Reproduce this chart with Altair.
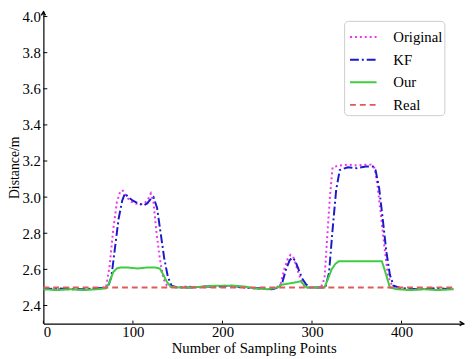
import altair as alt
import pandas as pd

# ---- data ----
orig_x = [0, 15, 30, 45, 60, 70, 74, 78, 82, 86, 89, 93, 98, 103, 108, 113, 117, 120, 123, 126,
          130, 134, 138, 145, 160, 175, 190, 205, 220, 235, 250, 260, 265, 269, 273, 276, 279, 283, 287, 291,
          295, 300, 310, 314, 317, 320, 323, 330, 340, 350, 360, 366, 370, 373, 377, 381, 385, 390, 400, 420,
          440, 458]
orig_y = [2.495, 2.49, 2.495, 2.49, 2.495, 2.5, 2.62, 2.82, 2.97, 3.035, 3.035, 3.0, 2.975, 2.965, 2.96,
          2.965, 2.99, 3.02, 2.97, 2.82, 2.66, 2.55, 2.51, 2.5, 2.505, 2.5, 2.505, 2.51, 2.5, 2.495,
          2.49, 2.495, 2.52, 2.6, 2.66, 2.68, 2.67, 2.61, 2.55, 2.51, 2.5, 2.5, 2.5, 2.55, 2.78,
          3.0, 3.165, 3.175, 3.18, 3.175, 3.18, 3.18, 3.16, 3.07, 2.9, 2.72, 2.56, 2.505, 2.495, 2.49,
          2.495, 2.49]

kf_x = [0, 15, 30, 45, 60, 72, 76, 80, 84, 88, 91, 95, 100, 106, 112, 116, 120, 123, 127, 131,
        135, 139, 143, 150, 165, 180, 195, 210, 225, 240, 255, 263, 267, 271, 275, 278, 281, 285, 289, 293,
        297, 305, 315, 319, 323, 327, 331, 340, 350, 360, 368, 371, 375, 379, 383, 387, 391, 400, 420, 440,
        458]
kf_y = [2.49, 2.495, 2.49, 2.49, 2.495, 2.5, 2.56, 2.72, 2.88, 2.98, 3.02, 3.0, 2.98, 2.965, 2.955,
        2.965, 2.99, 3.0, 2.94, 2.8, 2.66, 2.56, 2.51, 2.5, 2.5, 2.505, 2.505, 2.51, 2.5, 2.495,
        2.49, 2.5, 2.53, 2.6, 2.65, 2.665, 2.65, 2.6, 2.55, 2.52, 2.5, 2.5, 2.5, 2.58, 2.82,
        3.04, 3.15, 3.165, 3.16, 3.17, 3.17, 3.15, 3.05, 2.88, 2.7, 2.57, 2.51, 2.495, 2.49, 2.495,
        2.49]

our_x = [0, 15, 30, 45, 60, 70, 74, 78, 82, 86, 95, 105, 115, 125, 130, 134, 138, 142, 150, 165,
         180, 195, 210, 225, 235, 250, 262, 266, 272, 278, 284, 287, 290, 294, 300, 310, 314, 318, 322, 326,
         330, 340, 350, 360, 370, 378, 381, 384, 387, 395, 410, 425, 440, 458]
our_y = [2.49, 2.485, 2.49, 2.485, 2.49, 2.495, 2.53, 2.585, 2.605, 2.61, 2.61, 2.605, 2.61, 2.61, 2.605,
         2.57, 2.53, 2.505, 2.5, 2.5, 2.505, 2.51, 2.51, 2.505, 2.495, 2.49, 2.5, 2.515, 2.52, 2.525,
         2.53, 2.535, 2.52, 2.5, 2.5, 2.5, 2.5, 2.55, 2.6, 2.63, 2.645, 2.645, 2.645, 2.645, 2.645,
         2.645, 2.6, 2.55, 2.5, 2.49, 2.485, 2.49, 2.485, 2.49]

real_x = [0, 458]
real_y = [2.5, 2.5]

series_names = ["Original", "KF", "Our", "Real"]
series_colors = ["#ee33ee", "#1a1acc", "#3fcc3f", "#e05a5a"]
series_dashes = [[2, 3], [9, 3, 2, 3], [1, 0], [6, 4]]

x_ticks = [0, 100, 200, 300, 400]
y_ticks = [2.4, 2.6, 2.8, 3.0, 3.2, 3.4, 3.6, 3.8, 4.0]

rows = []
for name, xs, ys in [("Original", orig_x, orig_y), ("KF", kf_x, kf_y),
                     ("Our", our_x, our_y), ("Real", real_x, real_y)]:
    for i, (a, b) in enumerate(zip(xs, ys)):
        rows.append({"n": a, "d": b, "series": name, "ord": i})
df = pd.DataFrame(rows)

W, H = 428, 318
FONT = "Liberation Serif"

xscale = alt.Scale(domain=[0, W / 0.911], nice=False, zero=False)
yscale = alt.Scale(domain=[2.3, 2.3 + H / 183.75], nice=False, zero=False)

xaxis = alt.Axis(values=x_ticks, title="Number of Sampling Points", tickSize=0,
                 labelPadding=1, titlePadding=1, grid=False,
                 labelFont=FONT, titleFont=FONT, labelOverlap=False)
yaxis = alt.Axis(values=y_ticks, format=".1f", title="Distance/m", tickSize=0,
                 labelPadding=3, titleX=-22, titleY=H / 2, titleFontSize=14, grid=False,
                 labelFont=FONT, titleFont=FONT, labelOverlap=False)

lines = alt.Chart(df).mark_line(strokeWidth=2).encode(
    x=alt.X("n:Q", scale=xscale, axis=xaxis, title="Number of Sampling Points"),
    y=alt.Y("d:Q", scale=yscale, axis=yaxis, title="Distance/m"),
    color=alt.Color("series:N", scale=alt.Scale(domain=series_names, range=series_colors),
                    legend=alt.Legend(title=None)),
    strokeDash=alt.StrokeDash("series:N", scale=alt.Scale(domain=series_names, range=series_dashes),
                              legend=alt.Legend(title=None)),
    order=alt.Order("ord:Q"),
)

xt = alt.Chart(pd.DataFrame({"v": x_ticks})).mark_rule(color="black", strokeWidth=1).encode(
    x=alt.X("v:Q", scale=xscale, axis=xaxis, title="Number of Sampling Points"),
    y=alt.value(H), y2=alt.value(H - 3))
yt = alt.Chart(pd.DataFrame({"v": y_ticks})).mark_rule(color="black", strokeWidth=1).encode(
    y=alt.Y("v:Q", scale=yscale, axis=yaxis, title="Distance/m"),
    x=alt.value(0), x2=alt.value(4))

one = pd.DataFrame({"a": [0]})
arrow_r = alt.Chart(one).mark_point(shape="M-1,-0.6L0,0L-1,0.6", filled=False, stroke="black",
                                    strokeWidth=1.5, size=49, opacity=1).encode(
    x=alt.value(W - 1), y=alt.value(H))
arrow_t = alt.Chart(one).mark_point(shape="M-0.6,1L0,0L0.6,1", filled=False, stroke="black",
                                    strokeWidth=1.5, size=49, opacity=1).encode(
    x=alt.value(0), y=alt.value(1))

chart = alt.layer(lines, xt, yt, arrow_r, arrow_t).properties(
    width=W, height=H,
    autosize=alt.AutoSizeParams(type="none"),
    padding={"left": 36, "top": 0, "right": 2, "bottom": 33},
).configure_view(strokeWidth=0).configure_axis(
    labelFont=FONT, titleFont=FONT, labelFontSize=15, titleFontSize=15,
    titleFontWeight="normal", labelColor="black", titleColor="black",
    domainColor="black", domainWidth=1.2,
).configure_legend(
    orient="none", legendX=306, legendY=10, padding=2,
    fillColor="white", strokeColor="#cccccc", cornerRadius=4,
    labelFont=FONT, labelFontSize=15, labelColor="black",
    symbolType="stroke", symbolSize=729, symbolStrokeWidth=2, symbolOffset=3,
    labelOffset=16, rowPadding=-8,
)

chart.save("out.html", embed_options={"renderer": "svg", "actions": False})
